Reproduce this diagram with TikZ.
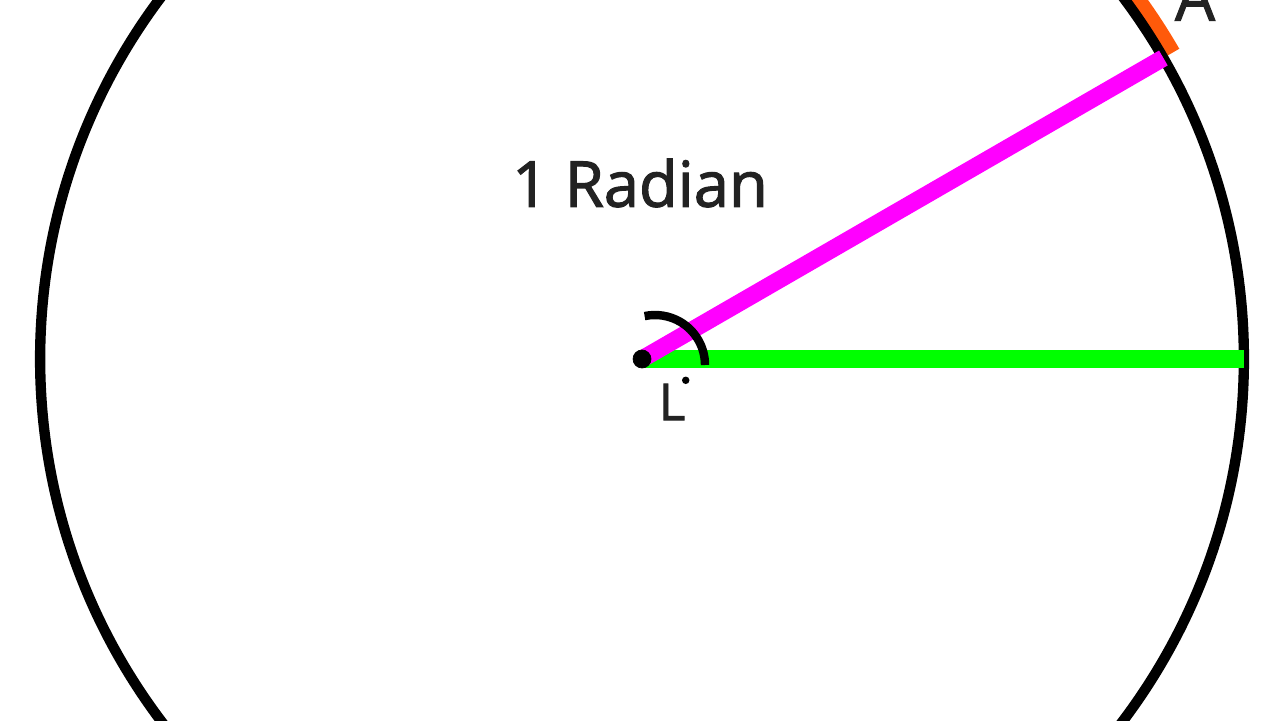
\documentclass[tikz,border=0pt]{standalone}
\usepackage{fontspec}
\setmainfont{Open Sans}
\usetikzlibrary{positioning}
\definecolor{ink}{HTML}{222222}
\definecolor{arcorange}{HTML}{FF5A0A}
\definecolor{radmagenta}{HTML}{FF00FF}
\definecolor{radgreen}{HTML}{00FF00}

\begin{document}
\begin{tikzpicture}[x=0.02cm, y=0.02cm, outer sep=0]
        \useasboundingbox (0,0) rectangle (1280,720);
        \clip (0,0) rectangle (1280,720);
        % centre and radius end points
        \coordinate (O) at (642,361);
        \coordinate (B) at ([shift={(0:602)}]O);
        \coordinate (A) at ([shift={(30:602)}]O);
        % arc length along the circle
        \draw[line width=13pt, arcorange] ([shift={(30:609)}]O) arc[start angle=30, end angle=45, radius=12.18cm];
        % the circle
        \draw[line width=5.9pt] (O) circle[radius=12.04cm];
        % radii
        \draw[line width=10pt, radgreen] (O) -- (B);
        \draw[line width=9.8pt, radmagenta] (O) -- (A);
        % angle mark
        \draw[line width=4.8pt] ([shift={(13,-6)}]O) ++(0:50) arc[start angle=0, end angle=102, radius=1cm];
        \node [draw, circle, fill, inner sep=0, minimum size=0.36cm] (dot) at (O) {};
        % labels
        \node [text=ink, font=\fontsize{36}{36}\selectfont\addfontfeature{FakeBold=1.8}] (title) at (640,537) {1 Radian};
        \node [text=ink, font=\fontsize{36}{36}\selectfont\addfontfeature{FakeBold=1.8}] (Alab) at (1195,722) {A};
        \node [text=ink, font=\fontsize{29}{29}\selectfont\addfontfeature{FakeBold=1.8}] (Llab) at (672,318) {L};
        \node [circle, fill, inner sep=0, minimum size=0.15cm, above right = -0.1cm and -0.16cm of Llab.north east] (Ldot) {};
    \end{tikzpicture}
\end{document}
